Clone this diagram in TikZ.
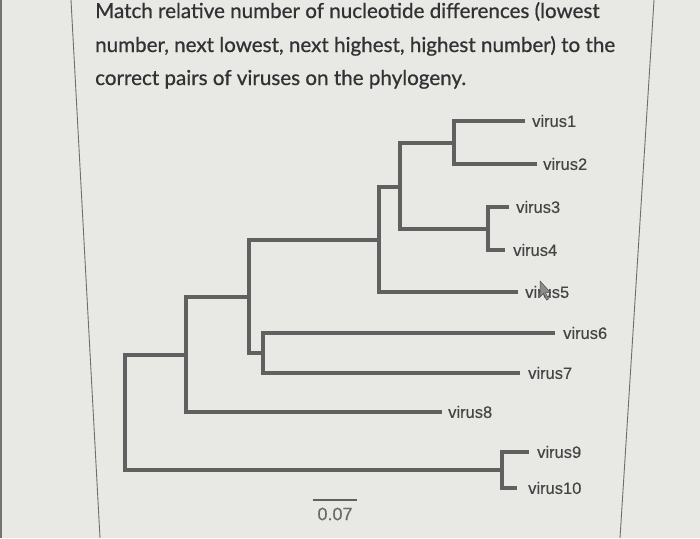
\documentclass[tikz,border=0pt]{standalone}
\usepackage{fontspec}
\usetikzlibrary{positioning}

\newfontfamily\latofont[FakeBold=0.7]{Lato}
\newfontfamily\helvfont[FakeBold=0.3]{Liberation Sans}

\definecolor{screenbg}{RGB}{232,232,229}
\definecolor{questiontext}{RGB}{50,50,52}
\definecolor{treegray}{RGB}{96,96,96}
\definecolor{labelgray}{RGB}{68,68,68}
\definecolor{panelline}{RGB}{110,110,110}

\tikzset{
  branch/.style={draw=treegray, line width=3.2, line cap=rect},
  vlabel/.style={inner sep=0pt, anchor=west, text=labelgray,
    font=\helvfont\fontsize{16.5}{18}\selectfont},
  question/.style={inner sep=0pt, anchor=base west, text=questiontext,
    font=\latofont\fontsize{20.6}{23}\selectfont},
}

\begin{document}
\begin{tikzpicture}[x=1pt, y=-1pt]

  % Bounding box of the scheme
  \fill[screenbg] (0,0) rectangle (700,538) ;
  \useasboundingbox (0,0) rectangle (700,538) ;
  \fill[black!55] (0,0) rectangle (2,538) ;

  %%%%%%%%%%%%%%%%%%%%%%%%%%%%%%%%% Panel edges on the screen %%%%%%%%%%%%%%%%%%%%%%%%%%%%%%%%%
  \draw[panelline, line width=0.9] (71,0) -- (100,538) ;
  \draw[panelline, line width=0.9] (654,0) -- (620,538) ;

  %%%%%%%%%%%%%%%%%%%%%%%%%%%%%%%%% Question %%%%%%%%%%%%%%%%%%%%%%%%%%%%%%%%%%%%%%%%%%%%%%%%%
  \node[question] (q1) at (95,18) {Match relative number of nucleotide differences (lowest} ;
  \node[question] (q2) at (95,52) {number, next lowest, next highest, highest number) to the} ;
  \node[question] (q3) at (95,85) {correct pairs of viruses on the phylogeny.} ;

  %%%%%%%%%%%%%%%%%%%%%%%%%%%%%%%%% Points pour travailler %%%%%%%%%%%%%%%%%%%%%%%%%%%%%%%%%%%%

  % Feuilles
  \coordinate (v1) at (523,121) ;
  \coordinate (v2) at (535,164) ;
  \coordinate (v3) at (507,207) ;
  \coordinate (v4) at (503,250) ;
  \coordinate (v5) at (516,292) ;
  \coordinate (v6) at (553,333) ;
  \coordinate (v7) at (518,373) ;
  \coordinate (v8) at (440,412) ;
  \coordinate (v9) at (527,452) ;
  \coordinate (v10) at (515,488) ;

  % Noeuds internes
  \coordinate (n12) at (454,143) ;
  \coordinate (n34) at (488,229) ;
  \coordinate (n14) at (400,187) ;
  \coordinate (n15) at (379,240) ;
  \coordinate (n67) at (263,353) ;
  \coordinate (n17) at (249,297) ;
  \coordinate (n18) at (186,355) ;
  \coordinate (n910) at (502,470) ;
  \coordinate (root) at (125,412) ;

  %%%%%%%%%%%%%%%%%%%%%%%%%%%%%%%%%%%% Branches %%%%%%%%%%%%%%%%%%%%%%%%%%%%%%%%%%%%%%%%%%%%%%
  \foreach \p/\c in {n12/v1, n12/v2, n34/v3, n34/v4, n14/n12, n14/n34,
                     n15/n14, n15/v5, n67/v6, n67/v7, n17/n15, n17/n67,
                     n18/n17, n18/v8, n910/v9, n910/v10, root/n18, root/n910} {
    \draw[branch] (\p) |- (\c) ;
  }

  %%%%%%%%%%%%%%%%%%%%%%%%%%%%%%%%%%%% Noms des virus %%%%%%%%%%%%%%%%%%%%%%%%%%%%%%%%%%%%%%%%
  \foreach \i/\d in {1/9, 2/8, 3/9, 4/10, 5/9, 6/10, 7/10, 8/8, 9/10, 10/13} {
    \node[vlabel, right=\d pt of v\i] (l\i) {virus\i} ;
  }

  % Curseur de la souris
  \draw[black!70, fill=black!45, line width=0.5]
    (540,281) -- (540,297) -- (543.5,293.5) -- (546.5,300) -- (548.5,299)
    -- (545.5,292.5) -- (550.5,292.5) -- cycle ;

  %%%%%%%%%%%%%%%%%%%%%%%%%%%%%%%%%%%% Echelle %%%%%%%%%%%%%%%%%%%%%%%%%%%%%%%%%%%%%%%%%%%%%%%
  \coordinate (s1) at (313,500) ;
  \coordinate (s2) at (357,500) ;
  \draw[branch, line width=2.2, line cap=butt] (s1) -- (s2) ;
  \node[vlabel, anchor=center, text=black!58, font=\helvfont\fontsize{18}{20}\selectfont]
    (scale) at (335,514) {0.07} ;

\end{tikzpicture}
\end{document}
